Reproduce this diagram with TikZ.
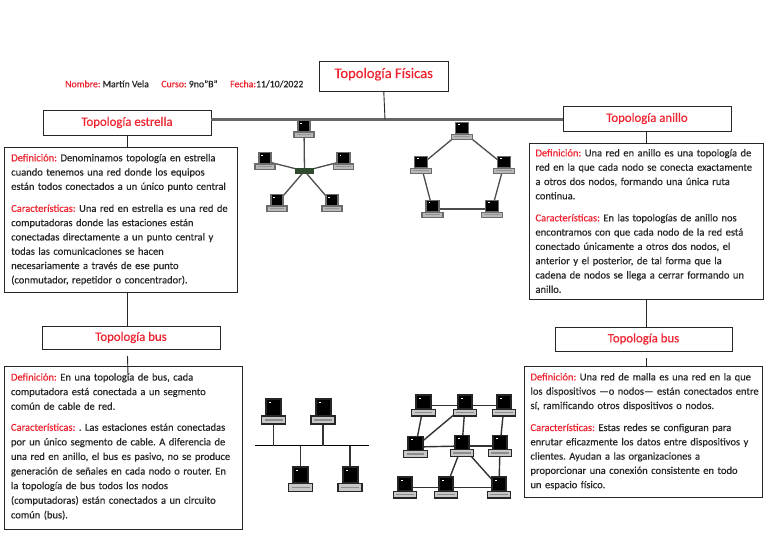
\documentclass[tikz,border=0pt]{standalone}
\usepackage{fontspec}
\setmainfont{Carlito}[RawFeature={embolden=0.35}]
\frenchspacing
\definecolor{redt}{HTML}{EE2430}
\definecolor{inkt}{HTML}{262626}
\definecolor{frameL}{gray}{.42}
\definecolor{baseL}{gray}{.72}
\definecolor{slotL}{gray}{.58}
\definecolor{frameD}{gray}{.15}
\definecolor{baseD}{gray}{.78}
\definecolor{slotD}{gray}{.55}
\definecolor{hubc}{HTML}{2F4A2F}
\newcommand\rd[1]{\textcolor{redt}{#1}}
\newcommand\pcart[5]{%
 \begin{scope}[shift={(#1.center)},#2]
  \fill[#3] (-8.5,-13.5) rectangle (8.5,4.5);
  \fill[black] (-6.5,-11.5) rectangle (6.5,3);
  \fill[white] (-4.5,-9.5) rectangle (-2.5,-8.7);
  \filldraw[fill=#4,draw=#3,line width=1.2pt] (-12,4.5) rectangle (12,12.5);
  \fill[#5] (-9,7.5) rectangle (9,9);
 \end{scope}}
\tikzset{
 hbox/.style={draw=black!85,line width=.9pt,fill=white,inner sep=0pt,outer sep=0pt,anchor=north west},
 tbox/.style={hbox,align=left,text=inkt,font=\fontsize{10.5}{14.3}\selectfont,inner xsep=6.5pt},
 hdr/.style={text=redt,font=\fontsize{12.8}{14}\selectfont},
 link/.style={draw=black!85,line width=.9pt},
 trunk/.style={draw=black!60,line width=2.2pt},
 netlo/.style={draw=black!70,line width=1.3pt},
 nethi/.style={draw=black!80,line width=1.4pt},
 pcn/.style={inner sep=0pt,outer sep=0pt,minimum width=24pt,minimum height=27pt}
}
\begin{document}
\begin{tikzpicture}[x=1pt,y=-1pt]
\useasboundingbox[fill=white] (0,0) rectangle (768,543);
% headers
\node[hbox,hdr,font=\fontsize{14.6}{16}\selectfont,minimum width=128.5pt,minimum height=30pt,text depth=8pt,text height=12pt] (title) at (319.5,61) {Topología Físicas};
\node[hbox,hdr,minimum width=168pt,minimum height=25pt] (hest) at (43,110) {Topología estrella};
\node[hbox,hdr,minimum width=168pt,minimum height=25pt] (hani) at (563,106) {Topología anillo};
\node[hbox,hdr,minimum width=178pt,minimum height=23pt] (hbl) at (42,326) {Topología bus};
\node[hbox,hdr,minimum width=177pt,minimum height=24pt] (hbr) at (555,327) {Topología bus};
\node[anchor=west,inner sep=0pt,text=inkt,font=\fontsize{9.8}{11}\selectfont] (info) at (65,84) {\rd{Nombre:} Martín Vela\hspace{12.5pt}\rd{Curso:} 9no”B”\hspace{12.5pt}\rd{Fecha:}11/10/2022};
% text boxes
\node[tbox,text width=219pt,minimum width=232.5pt,minimum height=145pt] (best) at (4.5,147) {\rd{Definición:} Denominamos topología en estrella\\cuando tenemos una red donde los equipos\\están todos conectados a un único punto central\\[7.7pt]\rd{Características:} Una red en estrella es una red de\\computadoras donde las estaciones están\\conectadas directamente a un punto central y\\todas las comunicaciones se hacen\\necesariamente a través de ese punto\\(conmutador, repetidor o concentrador).};
\node[tbox,text width=221pt,minimum width=234pt,minimum height=156pt] (bani) at (529,143) {\rd{Definición:} Una red en anillo es una topología de\\red en la que cada nodo se conecta exactamente\\a otros dos nodos, formando una única ruta\\continua.\\[7.7pt]\rd{Características:} En las topologías de anillo nos\\encontramos con que cada nodo de la red está\\conectado únicamente a otros dos nodos, el\\anterior y el posterior, de tal forma que la\\cadena de nodos se llega a cerrar formando un\\anillo.};
\node[tbox,font=\fontsize{10.5}{14.6}\selectfont,text width=224.5pt,minimum width=237.5pt,minimum height=163pt] (bbl) at (4.5,366) {\rd{Definición:} En una topología de bus, cada\\computadora está conectada a un segmento\\común de cable de red.\\[6.4pt]\rd{Características:} . Las estaciones están conectadas\\por un único segmento de cable. A diferencia de\\una red en anillo, el bus es pasivo, no se produce\\generación de señales en cada nodo o router. En\\la topología de bus todos los nodos\\(computadoras) están conectados a un circuito\\común (bus).\rule[-3.4pt]{0pt}{0pt}};
\node[tbox,text width=225pt,minimum width=238pt,minimum height=131pt] (bbr) at (524,366) {\rd{Definición:} Una red de malla es una red en la que\\\mbox{los dispositivos —o nodos— están conectados entre}\\sí, ramificando otros dispositivos o nodos.\\[7.7pt]\rd{Características:} Estas redes se configuran para\\enrutar eficazmente los datos entre dispositivos y\\clientes. Ayudan a las organizaciones a\\proporcionar una conexión consistente en todo\\un espacio físico.};
% free ends
\coordinate (tj) at (385,119.5);
\coordinate (sl1) at (127.5,356);
\coordinate (sl2) at (128,375);
\coordinate (sr1) at (646,358);
\coordinate (sr2) at (646,366);
\coordinate (busA) at (255,445.7);
\coordinate (busB) at (369,445.7);
% trunk and links
\draw[trunk] (hest.east |- tj) -- (hani.west |- tj);
\draw[link] (title.south) -- (tj);
\draw[link] (hest.south) -- (hest.south |- best.north);
\draw[link] (hest.south |- best.south) -- (hest.south |- hbl.north);
\draw[link] (sr2 |- hani.south) -- (sr2 |- bani.north);
\draw[link] (sr2 |- bani.south) -- (sr2 |- hbr.north);
\draw[link] (sl1) -- (sl2);
\draw[link] (sr1) -- (sr2);
% computers
\foreach \n/\x/\y in {st1/304/129,st2/265/161,st3/343.5/161,st4/277/203,st5/332/203,
  ri1/462/131,ri2/421/165,ri3/504/165,ri4/432.5/209,ri5/492/209,
  bu1/273.5/411.5,bu2/323/411.5,bu3/300.5/479,bu4/350/479,
  me1/423.5/405.5,me2/465/405.5,me3/504/405.5,me4/415.5/447,me5/462/446,me6/500/446,me7/405/487.5,me8/446/487.5,me9/499/487.5}
  \node[pcn] (\n) at (\x,\y) {};
\node[inner sep=0pt,outer sep=0pt,minimum width=19pt,minimum height=6pt] (hub) at (304.5,171) {};
\coordinate (d1) at (273.5,445.7);
\coordinate (d2) at (323,445.7);
\coordinate (d3) at (300.5,445.7);
\coordinate (d4) at (350,445.7);
% connectors
\foreach \a in {st1,st2,st3,st4,st5} \draw[netlo] (\a.center) -- (hub.center);
\foreach \a/\b in {ri1/ri2,ri1/ri3,ri2/ri4,ri3/ri5,ri4/ri5} \draw[netlo] (\a.center) -- (\b.center);
\draw[nethi,line width=1.5pt,draw=black] (busA) -- (busB);
\foreach \a/\b in {bu1/d1,bu2/d2,bu3/d3,bu4/d4} \draw[nethi] (\a.center) -- (\b);
\foreach \a/\b in {me1/me2,me2/me3,me1/me4,me2/me4,me2/me5,me3/me6,me4/me5,me5/me6,me5/me8,me5/me9,me6/me9,me7/me8,me8/me9}
  \draw[nethi] (\a.center) -- (\b.center);
\fill[hubc] (hub.north west) rectangle (hub.south east);
% computer drawings
\foreach \n in {st1,st2,st3,st4,st5} {\pcart{\n}{xscale=.83,yscale=.68}{frameL}{baseL}{slotL}}
\foreach \n in {ri1,ri2,ri3,ri4,ri5} {\pcart{\n}{xscale=.87,yscale=.69}{frameL}{baseL}{slotL}}
\foreach \n in {bu1,bu2,bu3,bu4} {\pcart{\n}{xscale=1,yscale=1}{frameD}{baseD}{slotD}}
\foreach \n in {me1,me2,me3,me4,me5,me6,me7,me8,me9} {\pcart{\n}{xscale=.98,yscale=.84}{frameD}{baseD}{slotD}}
\end{tikzpicture}
\end{document}
